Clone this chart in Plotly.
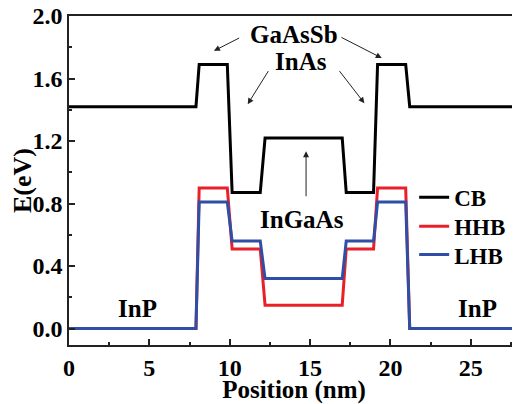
import plotly.graph_objects as go

# band edge profile (position in nm, energy in eV)
position = [0, 7.9, 8.1, 9.85, 10.15, 11.9, 12.2, 17.0, 17.25, 18.95, 19.2, 20.95, 21.2, 28]
cb = [1.42, 1.42, 1.69, 1.69, 0.87, 0.87, 1.22, 1.22, 0.87, 0.87, 1.69, 1.69, 1.42, 1.42]
hhb = [0, 0, 0.90, 0.90, 0.51, 0.51, 0.15, 0.15, 0.51, 0.51, 0.90, 0.90, 0, 0]
lhb = [0, 0, 0.81, 0.81, 0.56, 0.56, 0.32, 0.32, 0.56, 0.56, 0.81, 0.81, 0, 0]

# region labels and arrows (head x, head y, tail x, tail y)
labels = ['GaAsSb', 'InAs', 'InGaAs', 'InP', 'InP']
label_x = [14.0, 14.44, 14.47, 4.29, 25.42]
label_y = [1.88, 1.712, 0.70, 0.13, 0.13]
arrows = [
    (9.02, 1.777, 10.68, 1.864),
    (19.46, 1.731, 16.86, 1.868),
    (11.12, 1.436, 12.46, 1.657),
    (18.38, 1.442, 16.76, 1.657),
    (14.75, 1.134, 14.75, 0.837),
]

serif = 'Liberation Serif'
legend_font = dict(family=serif, size=23, color='black', weight='bold')

fig = go.Figure()
fig.add_trace(go.Scatter(x=position, y=cb, name='CB', mode='lines', legend='legend',
                         line=dict(color='black', width=3)))
fig.add_trace(go.Scatter(x=position, y=hhb, name='HHB', mode='lines', legend='legend2',
                         line=dict(color='#e8202a', width=3)))
fig.add_trace(go.Scatter(x=position, y=lhb, name='LHB', mode='lines', legend='legend3',
                         line=dict(color='#2f4fa6', width=3)))

for txt, lx, ly in zip(labels, label_x, label_y):
    fig.add_annotation(x=lx, y=ly, text=txt, showarrow=False,
                       font=dict(family=serif, size=25, color='black', weight='bold'))

for hx, hy, tx, ty in arrows:
    fig.add_annotation(x=hx, y=hy, ax=tx, ay=ty, axref='x', ayref='y',
                       text='', showarrow=True, arrowhead=2, arrowsize=1.2,
                       arrowwidth=1, arrowcolor='#222')

fig.update_xaxes(range=[0, 28], dtick=5, tick0=0, automargin=False,
                 ticks='inside', ticklen=6, tickwidth=1.5, tickcolor='#222',
                 minor=dict(ticks='inside', ticklen=3, dtick=2.5, tickcolor='#222'),
                 showline=True, linewidth=1.5, linecolor='#222', mirror=True,
                 showgrid=False, zeroline=False, ticklabelstandoff=0,
                 tickfont=dict(family=serif, size=24, color='black', weight='bold'),
                 title=dict(text='Position (nm)', standoff=0,
                            font=dict(family=serif, size=25, color='black', weight='bold')))
fig.update_yaxes(range=[-0.105, 2.0], dtick=0.4, tick0=0, tickformat='.1f', automargin=False,
                 ticks='inside', ticklen=6, tickwidth=1.5, tickcolor='#222',
                 minor=dict(ticks='inside', ticklen=3, dtick=0.2, tickcolor='#222'),
                 showline=True, linewidth=1.5, linecolor='#222', mirror=True,
                 showgrid=False, zeroline=False, ticklabeloverflow='allow',
                 tickfont=dict(family=serif, size=24, color='black', weight='bold'),
                 title=dict(text='E(eV)', standoff=3,
                            font=dict(family=serif, size=26, color='black', weight='bold')))

# page body adds an 8px margin, so the figure is a bit smaller than the window
fig.update_layout(
    width=512, height=396,
    margin=dict(l=61, r=1, t=8, b=59),
    plot_bgcolor='white', paper_bgcolor='white',
    showlegend=True,
    legend=dict(x=0.767, y=0.514, xanchor='left', yanchor='top',
                bgcolor='rgba(0,0,0,0)', font=legend_font),
    legend2=dict(x=0.767, y=0.426, xanchor='left', yanchor='top',
                 bgcolor='rgba(0,0,0,0)', font=legend_font),
    legend3=dict(x=0.767, y=0.340, xanchor='left', yanchor='top',
                 bgcolor='rgba(0,0,0,0)', font=legend_font),
)

fig.write_html("out.html")
